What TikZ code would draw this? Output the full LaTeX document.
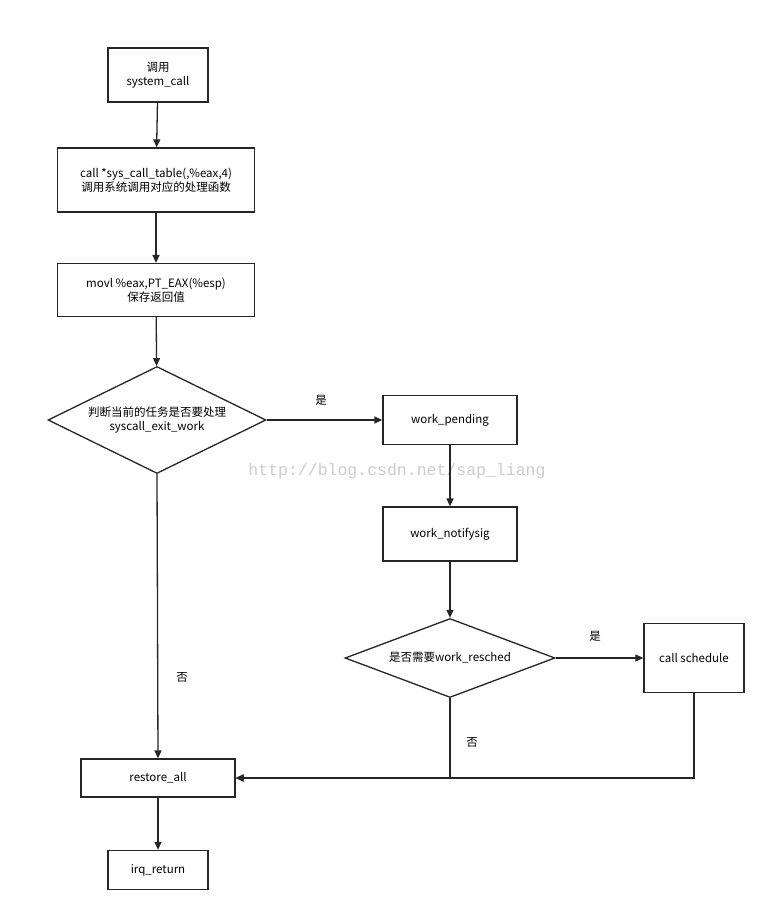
\documentclass[tikz,border=0pt]{standalone}
\usepackage{fontspec}
\setmainfont{Noto Sans CJK SC}
\newfontfamily\wmfont{Liberation Mono}
\usetikzlibrary{shapes.geometric,arrows.meta}
\begin{document}
\begin{tikzpicture}[x=1pt,y=-1pt,
  box/.style={draw=black!85,line width=1.3pt,minimum height=#1,inner sep=0pt,align=center,font=\fontsize{11.5}{14}\selectfont},
  dia/.style={draw=black!85,line width=1.3pt,diamond,aspect=2,inner sep=0pt,align=center,font=\fontsize{11.5}{14}\selectfont},
  lbl/.style={font=\fontsize{11.5}{14}\selectfont},
  arr/.style={draw=black!85,line width=1.3pt,-{Triangle[length=8pt,width=7pt]}}]
\useasboundingbox (0,0) rectangle (775,923);
\fill[white] (0,0) rectangle (775,923);
\node[box=54pt,minimum width=100pt] (a) at (158,75) {调用\\system\_call};
\node[box=64pt,minimum width=197pt] (b) at (156,180) {call *sys\_call\_table(,\%eax,4)\\调用系统调用对应的处理函数};
\node[box=53pt,minimum width=197pt] (c) at (156,290) {movl \%eax,PT\_EAX(\%esp)\\保存返回值};
\node[dia,minimum width=218pt,minimum height=107pt] (d1) at (157,420) {判断当前的任务是否要处理\\syscall\_exit\_work};
\node[box=49pt,minimum width=134pt] (wp) at (450,420) {work\_pending};
\node[box=54pt,minimum width=134pt] (wn) at (450,534) {work\_notifysig};
\node[dia,minimum width=210pt,minimum height=79pt] (d2) at (450,658) {是否需要work\_resched};
\node[box=69pt,minimum width=100pt] (cs) at (694,658) {call schedule};
\node[box=38pt,minimum width=154pt] (r) at (158,778) {restore\_all};
\node[box=39pt,minimum width=100pt] (q) at (158,870) {irq\_return};
\node[text=black!20,font=\wmfont\fontsize{16.5}{18}\selectfont] (wm) at (397,471) {http://blog.csdn.net/sap\_liang};
\node[lbl] (l1) at (321,400) {是};
\node[lbl] (l2) at (595,636) {是};
\node[lbl] (l3) at (182,677) {否};
\node[lbl] (l4) at (472,742) {否};
\draw[arr] (a) -- (b);
\draw[arr] (b) -- (c);
\draw[arr] (c) -- (d1);
\draw[arr] (d1) -- (wp);
\draw[arr] (wp) -- (wn);
\draw[arr] (wn) -- (d2);
\draw[arr] (d2) -- (cs);
\draw[arr] (d1.south) -- (r.north);
\draw[arr] (r) -- (q);
\draw[arr] (d2.south) |- (r.east);
\draw[arr] (cs.south) |- (r.east);
\end{tikzpicture}
\end{document}
